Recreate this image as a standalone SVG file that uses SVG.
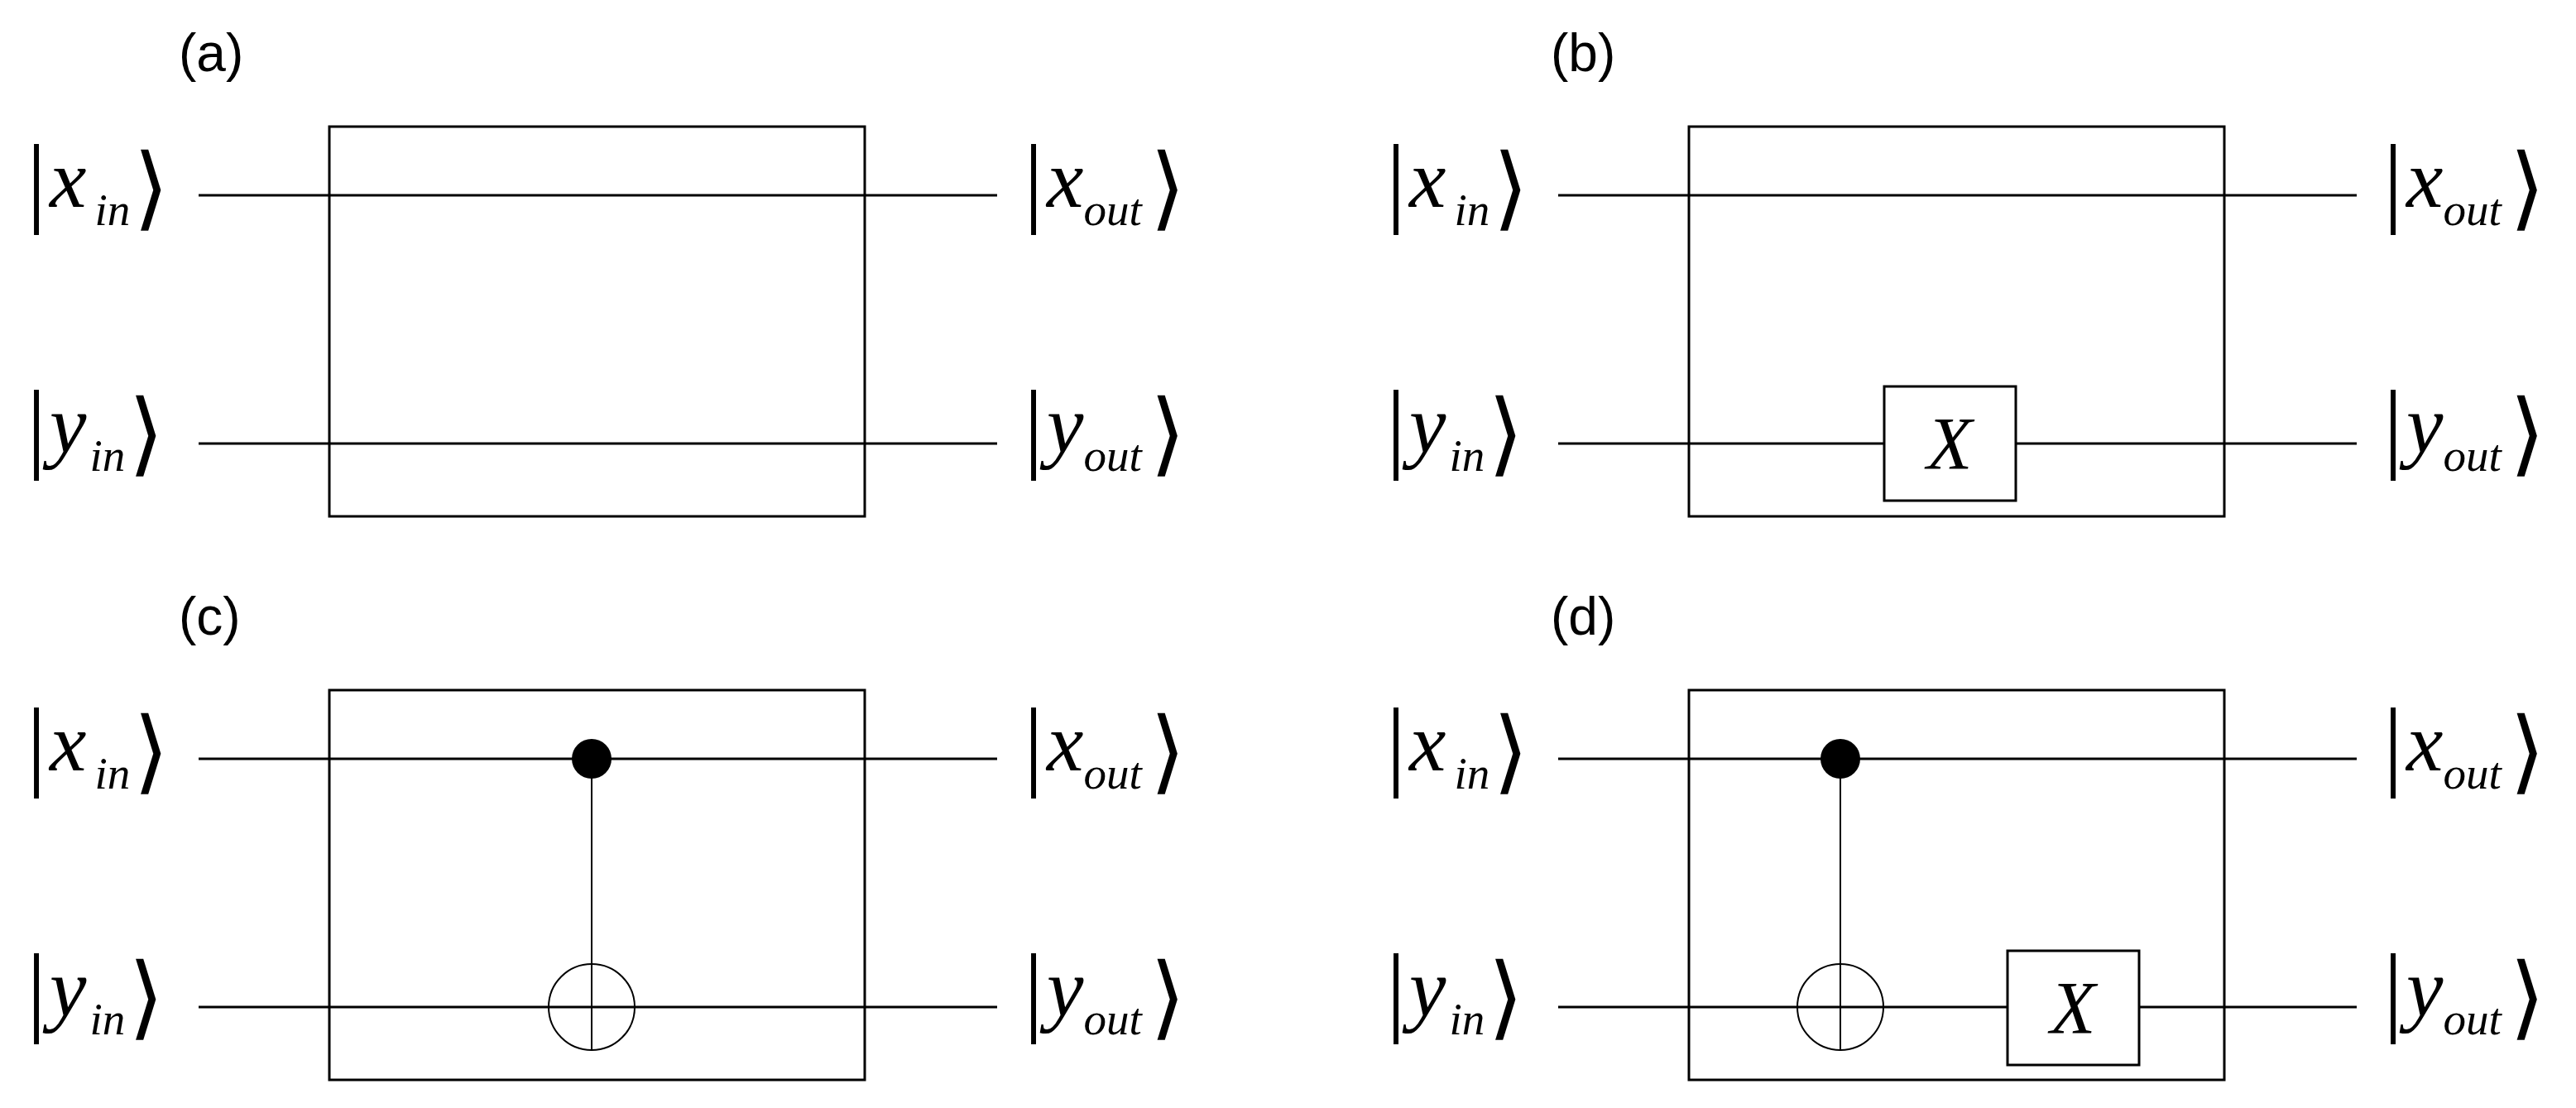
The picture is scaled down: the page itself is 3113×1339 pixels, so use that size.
<svg xmlns="http://www.w3.org/2000/svg" width="3113" height="1339" viewBox="0 0 3113 1339">
<style>
.w{stroke:#000;stroke-width:3;fill:none}
.t{stroke:#000;stroke-width:2;fill:none}
.lbl{font-family:"Liberation Sans",Arial,sans-serif;font-size:64px}
.k{font-family:"Liberation Serif","DejaVu Serif",serif;font-size:120px}
.a{font-family:"DejaVu Serif",serif;font-size:110px}
.m{font-family:"Liberation Serif","Times New Roman",serif;font-style:italic}
.g{font-family:"Liberation Serif","Times New Roman",serif;font-style:italic;font-size:90px}
</style>
<rect width="3113" height="1339" fill="#fff"/>
<defs>
<g id="labels">
<text class="k" x="32" y="258">|<tspan class="m" font-size="100" dx="4" dy="-8">x</tspan><tspan class="m" font-size="55" dx="10" dy="22">in</tspan><tspan class="a" dx="4" dy="-8">⟩</tspan></text>
<text class="k" x="32" y="555">|<tspan class="m" font-size="100" dx="4" dy="-8">y</tspan><tspan class="m" font-size="55" dx="4" dy="22">in</tspan><tspan class="a" dx="4" dy="-8">⟩</tspan></text>
<text class="k" x="1237" y="258">|<tspan class="m" font-size="100" dx="4" dy="-8">x</tspan><tspan class="m" font-size="55" dy="22">out</tspan><tspan class="a" dx="10" dy="-8">⟩</tspan></text>
<text class="k" x="1237" y="555">|<tspan class="m" font-size="100" dx="4" dy="-8">y</tspan><tspan class="m" font-size="55" dy="22">out</tspan><tspan class="a" dx="10" dy="-8">⟩</tspan></text>
</g>
</defs>
<g id="panel-a">
<text class="lbl" x="216" y="86">(a)</text>
<rect class="w" x="398" y="153" width="647" height="471"/>
<use href="#labels"/>
</g>
<g id="panel-b" transform="translate(1643,0)">
<text class="lbl" x="231" y="86">(b)</text>
<rect class="w" x="398" y="153" width="647" height="471"/>
<use href="#labels"/>
<g id="gate-x-b"><rect class="w" x="634" y="467" width="159" height="138" fill="#fff"/><text class="g" x="713" y="567" text-anchor="middle">X</text></g>
</g>
<g id="panel-c" transform="translate(0,681)">
<text class="lbl" x="216" y="86">(c)</text>
<rect class="w" x="398" y="153" width="647" height="471"/>
<use href="#labels"/>
</g>
<g id="panel-d" transform="translate(1643,681)">
<text class="lbl" x="231" y="86">(d)</text>
<rect class="w" x="398" y="153" width="647" height="471"/>
<use href="#labels"/>
<g id="gate-x-d"><rect class="w" x="783" y="468" width="159" height="138" fill="#fff"/><text class="g" x="862" y="568" text-anchor="middle">X</text></g>
</g>
<g id="connectors">
<line class="w" x1="240" y1="236" x2="1205" y2="236"/>
<line class="w" x1="240" y1="536" x2="1205" y2="536"/>
<line class="w" x1="1883" y1="236" x2="2848" y2="236"/>
<line class="w" x1="1883" y1="536" x2="2277" y2="536"/>
<line class="w" x1="2436" y1="536" x2="2848" y2="536"/>
<line class="w" x1="240" y1="917" x2="1205" y2="917"/>
<line class="w" x1="240" y1="1217" x2="1205" y2="1217"/>
<circle cx="715" cy="917" r="24" fill="#000"/>
<line class="t" x1="715" y1="917" x2="715" y2="1269"/>
<circle class="t" cx="715" cy="1217" r="52"/>
<line class="w" x1="1883" y1="917" x2="2848" y2="917"/>
<line class="w" x1="1883" y1="1217" x2="2426" y2="1217"/>
<line class="w" x1="2585" y1="1217" x2="2848" y2="1217"/>
<circle cx="2224" cy="917" r="24" fill="#000"/>
<line class="t" x1="2224" y1="917" x2="2224" y2="1269"/>
<circle class="t" cx="2224" cy="1217" r="52"/>
</g>
</svg>
